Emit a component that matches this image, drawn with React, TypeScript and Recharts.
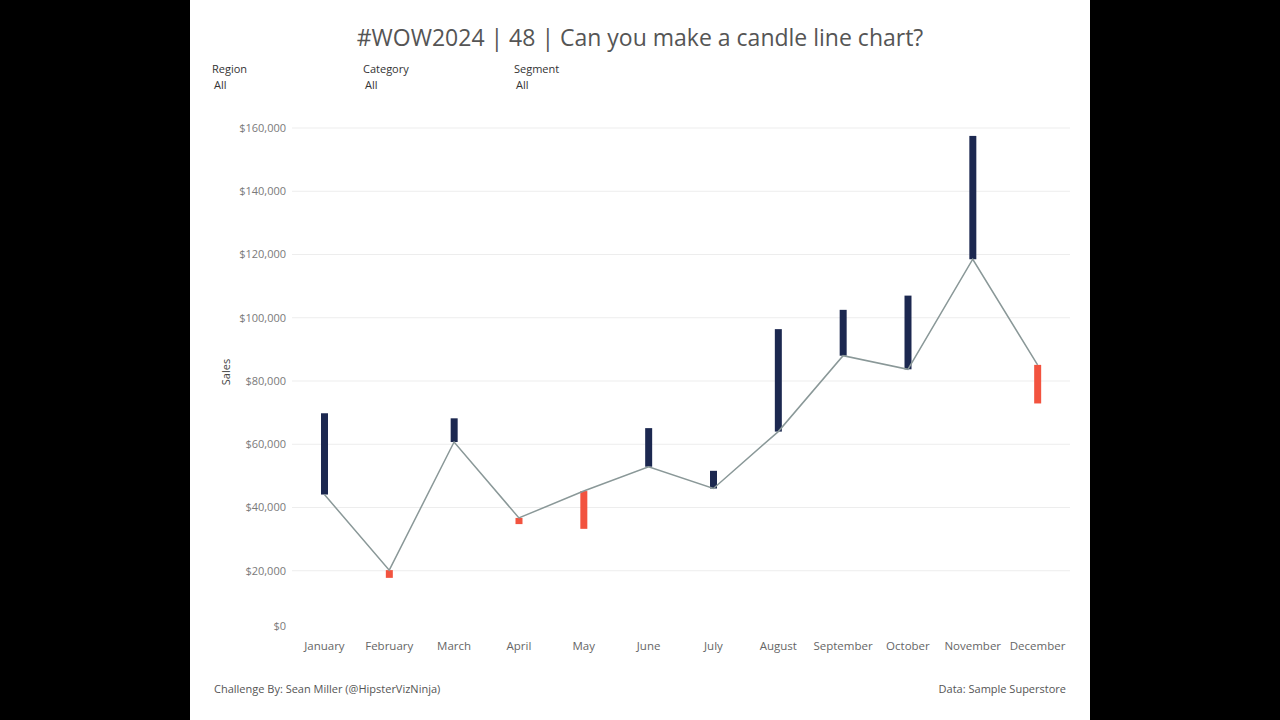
import React from 'react';
import {
  ComposedChart,
  Line,
  Bar,
  Cell,
  XAxis,
  YAxis,
  CartesianGrid,
} from 'recharts';

// Month labels on the category axis
const months = [
  'January', 'February', 'March', 'April', 'May', 'June',
  'July', 'August', 'September', 'October', 'November', 'December',
];

// Monthly sales drawn as the line
const sales = [44100, 20200, 60700, 36700, 45200, 52900, 46000, 64000, 88000, 83700, 118500, 85100];

// Other end of each candle (candle spans from the line value to this value)
const candleEnd = [69800, 17750, 68200, 34750, 33250, 65100, 51600, 96400, 102500, 107000, 157500, 72900];

// Y-axis tick values
const yTicks = [0, 20000, 40000, 60000, 80000, 100000, 120000, 140000, 160000];

const UP = '#1c2850';
const DOWN = '#f2533f';
const LINE = '#8a9898';
const FONT = '"Open Sans", "Noto Sans", sans-serif';

const rows = months.map((m, i) => ({
  month: m,
  sales: sales[i],
  candle: [Math.min(sales[i], candleEnd[i]), Math.max(sales[i], candleEnd[i])],
  up: candleEnd[i] >= sales[i],
}));

const fmt = (v: number) => '$' + v.toLocaleString('en-US');

const YTick = (props: any) => {
  const { x, y, payload } = props;
  const shift = payload.value === 0 ? -8 : 0;
  return (
    <text
      x={x}
      y={y + shift}
      dy="0.355em"
      textAnchor="end"
      fill="#7a7a7a"
      fontSize={11}
      fontFamily={FONT}
    >
      {fmt(payload.value)}
    </text>
  );
};

const XTick = (props: any) => {
  const { x, y, payload } = props;
  return (
    <text
      x={x}
      y={y}
      dy="0.71em"
      textAnchor="middle"
      fill="#666"
      fontSize={11.5}
      fontFamily={FONT}
    >
      {payload.value}
    </text>
  );
};

const filters = [
  { name: 'Region', left: 22 },
  { name: 'Category', left: 173 },
  { name: 'Segment', left: 324 },
];

export default function App() {
  return (
    <div
      style={{
        position: 'absolute',
        left: 0,
        top: 0,
        width: 1280,
        height: 720,
        background: '#000',
        fontFamily: FONT,
      }}
    >
      <div
        style={{
          position: 'absolute',
          left: 190,
          top: 0,
          width: 900,
          height: 720,
          background: '#fff',
          overflow: 'hidden',
        }}
      >
        <div
          style={{
            position: 'absolute',
            left: 0,
            top: 21,
            width: 900,
            textAlign: 'center',
            fontSize: 23,
            lineHeight: '32px',
            color: '#555',
          }}
        >
          #WOW2024 | 48 | Can you make a candle line chart?
        </div>

        {filters.map((f) => (
          <div key={f.name} style={{ position: 'absolute', left: f.left, top: 61, fontSize: 11, color: '#333' }}>
            <div style={{ lineHeight: '16px' }}>{f.name}</div>
            <div style={{ lineHeight: '16px', paddingLeft: 2 }}>All</div>
          </div>
        ))}

        <div
          style={{
            position: 'absolute',
            left: 36 - 30,
            top: 364,
            width: 60,
            textAlign: 'center',
            fontSize: 11,
            lineHeight: '16px',
            color: '#444',
            transform: 'rotate(-90deg)',
          }}
        >
          Sales
        </div>

        <div style={{ position: 'absolute', left: 0, top: 0 }}>
          <ComposedChart
            width={900}
            height={720}
            data={rows}
            margin={{ top: 128, right: 20, bottom: 56, left: 2 }}
          >
            <CartesianGrid
              vertical={false}
              stroke="#ededed"
              horizontalValues={[20000, 40000, 60000, 80000, 100000, 120000, 140000, 160000]}
            />
            <XAxis
              dataKey="month"
              axisLine={false}
              tickLine={false}
              tickSize={0}
              tickMargin={8}
              height={30}
              interval={0}
              tick={<XTick />}
            />
            <YAxis
              width={100}
              domain={[0, 160000]}
              ticks={yTicks}
              axisLine={false}
              tickLine={false}
              tickSize={0}
              tickMargin={6}
              tick={<YTick />}
            />
            <Line
              type="linear"
              dataKey="sales"
              stroke={LINE}
              strokeWidth={1.5}
              dot={false}
              isAnimationActive={false}
            />
            <Bar dataKey="candle" barSize={7} isAnimationActive={false}>
              {rows.map((r) => (
                <Cell key={r.month} fill={r.up ? UP : DOWN} />
              ))}
            </Bar>
          </ComposedChart>
        </div>

        <div style={{ position: 'absolute', left: 24, top: 681, fontSize: 11, color: '#555', lineHeight: '16px' }}>
          Challenge By: Sean Miller (@HipsterVizNinja)
        </div>
        <div
          style={{
            position: 'absolute',
            right: 24,
            top: 681,
            fontSize: 11,
            color: '#555',
            lineHeight: '16px',
          }}
        >
          Data: Sample Superstore
        </div>
      </div>
    </div>
  );
}
